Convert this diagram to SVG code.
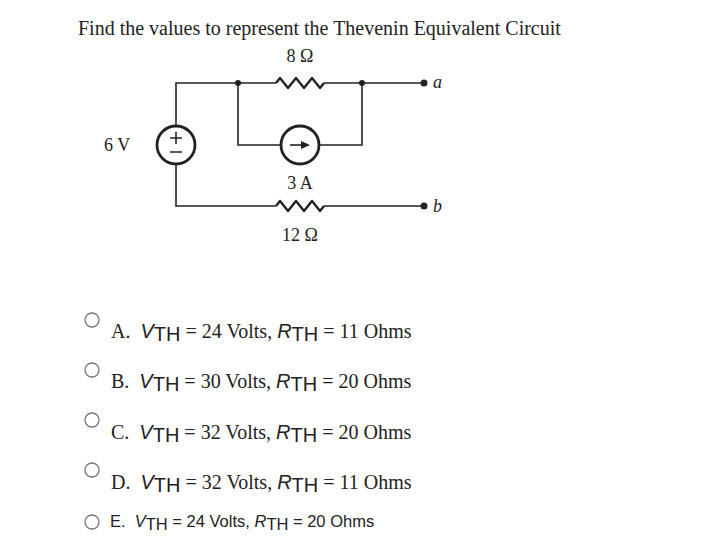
<svg xmlns="http://www.w3.org/2000/svg" width="723" height="553" viewBox="0 0 723 553">
<style>
.w{fill:none;stroke:#222;stroke-width:1.6}
.z{fill:none;stroke:#222;stroke-width:2.4;stroke-linejoin:round}
.c{fill:#fff;stroke:#222;stroke-width:2.8}
.t{font-family:"Liberation Serif",serif;font-size:20px;fill:#222;white-space:pre}
.l{font-family:"Liberation Serif",serif;font-size:18px;fill:#222}
.s{font-family:"Liberation Sans",sans-serif;font-size:20px;fill:#222}
.e{font-family:"Liberation Sans",sans-serif;font-size:16.5px;fill:#222;white-space:pre}
.i{font-style:italic}
.r{fill:#fff;stroke:#777;stroke-width:1.3}
.d{fill:#222}
</style>
<rect width="723" height="553" fill="#fff"/>
<text class="t" x="78" y="35">Find the values to represent the Thevenin Equivalent Circuit</text>
<g id="connectors">
<path class="w" d="M176 126V83H276M324 83H424M238 83V145H281M319 145H362V83M176 164V206H276M324 206H424"/>
</g>
<g id="R8"><path class="z" d="M276 83l4-5l8 10l8-10l8 10l8-10l8 10l4-5"/><text class="l" x="300" y="62" text-anchor="middle">8 Ω</text></g>
<g id="R12"><path class="z" d="M276 206l4-5l8 10l8-10l8 10l8-10l8 10l4-5"/><text class="l" x="300" y="241" text-anchor="middle">12 Ω</text></g>
<g id="V6"><circle class="c" cx="176" cy="145" r="19"/><path class="w" stroke-width="2.2" d="M170 138h12M176 132v12M170 152h12"/><text class="l" x="104" y="151">6 V</text></g>
<g id="I3"><circle class="c" cx="300" cy="145" r="19"/><path class="w" stroke-width="2" d="M290 145h12"/><path class="d" d="M310 145l-9-4v8z"/><text class="l" x="300" y="189" text-anchor="middle">3 A</text></g>
<g id="nodes"><circle class="d" cx="238" cy="83" r="3"/><circle class="d" cx="362" cy="83" r="3"/><circle class="d" cx="424" cy="83" r="3.5"/><circle class="d" cx="424" cy="206" r="3.5"/>
<text class="l i" x="433" y="88">a</text><text class="l i" x="433" y="212">b</text></g>
<g id="options">
<circle class="r" cx="92" cy="320" r="7"/><circle class="r" cx="92" cy="370" r="7"/><circle class="r" cx="92" cy="420" r="7"/><circle class="r" cx="92" cy="470" r="7"/><circle class="r" cx="92" cy="522" r="7"/>
<text class="t" x="111" y="338">A.  <tspan class="s i">V</tspan><tspan class="s" dy="3">TH</tspan><tspan dy="-3"> = 24 Volts, </tspan><tspan class="s i">R</tspan><tspan class="s" dy="3">TH</tspan><tspan dy="-3"> = 11 Ohms</tspan></text>
<text class="t" x="111" y="388">B.  <tspan class="s i">V</tspan><tspan class="s" dy="3">TH</tspan><tspan dy="-3"> = 30 Volts, </tspan><tspan class="s i">R</tspan><tspan class="s" dy="3">TH</tspan><tspan dy="-3"> = 20 Ohms</tspan></text>
<text class="t" x="111" y="439">C.  <tspan class="s i">V</tspan><tspan class="s" dy="3">TH</tspan><tspan dy="-3"> = 32 Volts, </tspan><tspan class="s i">R</tspan><tspan class="s" dy="3">TH</tspan><tspan dy="-3"> = 20 Ohms</tspan></text>
<text class="t" x="111" y="489">D.  <tspan class="s i">V</tspan><tspan class="s" dy="3">TH</tspan><tspan dy="-3"> = 32 Volts, </tspan><tspan class="s i">R</tspan><tspan class="s" dy="3">TH</tspan><tspan dy="-3"> = 11 Ohms</tspan></text>
<text class="e" x="110" y="527">E.  <tspan class="i">V</tspan><tspan dy="3">TH</tspan><tspan dy="-3"> = 24 Volts, </tspan><tspan class="i">R</tspan><tspan dy="3">TH</tspan><tspan dy="-3"> = 20 Ohms</tspan></text>
</g>
</svg>
